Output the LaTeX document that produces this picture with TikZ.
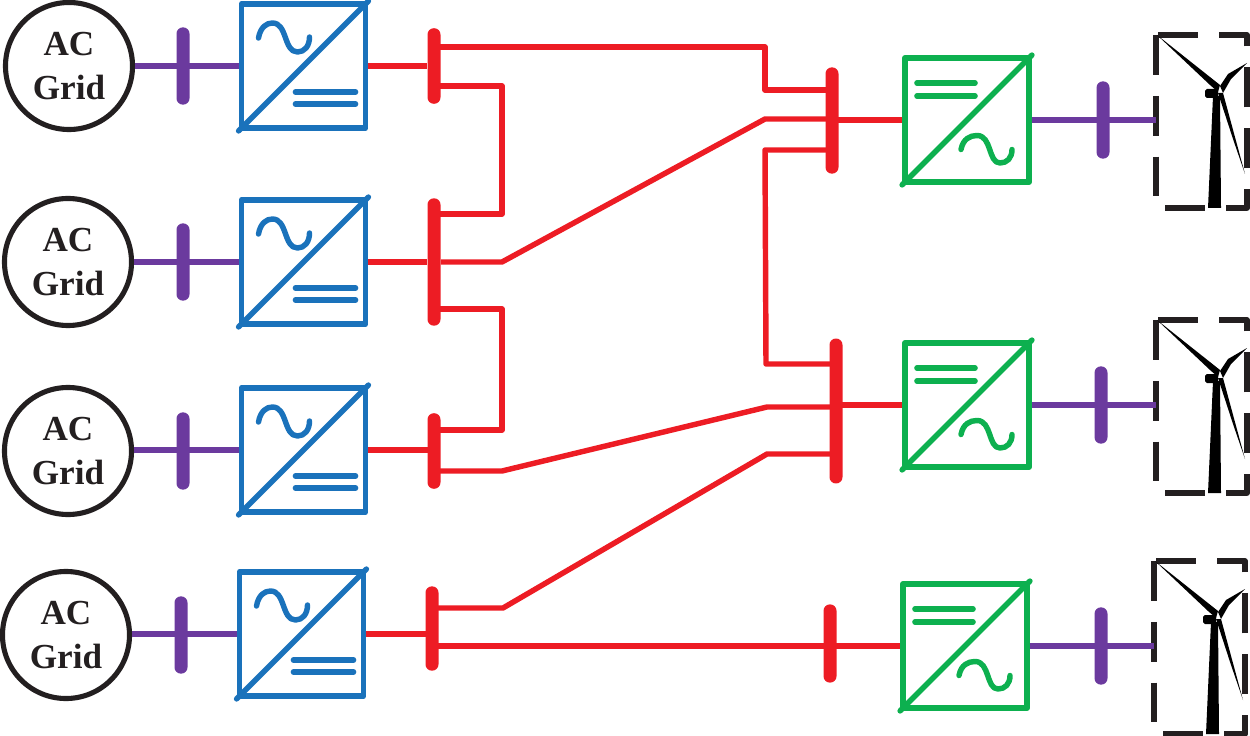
\documentclass[tikz,border=0pt]{standalone}
\usepackage{fontspec}
\setmainfont{Liberation Serif}
\definecolor{gridblack}{HTML}{231F20}
\definecolor{convblue}{HTML}{1A72BB}
\definecolor{convgreen}{HTML}{0DB04F}
\definecolor{wirered}{HTML}{ED1C24}
\definecolor{wirepurple}{HTML}{6B3A9E}
\begin{document}
\begin{tikzpicture}[
			x=0.02cm,y=-0.02cm,
			line join=round,
			grid/.style={circle,draw=gridblack,line width=2.9pt,minimum size=72.3pt,inner sep=0pt,align=center,text=gridblack,font=\fontsize{20}{25}\selectfont\bfseries},
			conv/.style={rectangle,draw,line width=3.1pt,minimum size=70.8pt,inner sep=0pt},
			bus/.style={rectangle,rounded corners=3.6pt,minimum width=7.4pt,inner sep=0pt},
			redbus/.style={bus,fill=wirered},
			purplebus/.style={bus,fill=wirepurple,minimum height=44pt},
			redwire/.style={draw=wirered,line width=3.1pt},
			purplewire/.style={draw=wirepurple,line width=3.3pt},
			acdc/.pic={
				\node[conv,draw=convblue] (-box) {};
				\draw[convblue,line width=3.1pt,line cap=round] (-box.south west) -- (-box.north east);
				\draw[convblue,line width=3.1pt,line cap=round] (-45,-28) .. controls (-43,-39) and (-37,-43) .. (-31,-43) .. controls (-16,-43) and (-20,-14) .. (-6,-14) .. controls (1,-14) and (6,-20) .. (6,-29);
				\draw[convblue,line width=3.2pt,line cap=round] (-8,26) -- (52,26) (-8,38) -- (52,38);
			},
			dcac/.pic={
				\node[conv,draw=convgreen] (-box) {};
				\draw[convgreen,line width=3.1pt,line cap=round] (-box.south west) -- (-box.north east);
				\draw[convgreen,line width=3.1pt,line cap=round] (-6,29.5) .. controls (-4,19) and (3,15.5) .. (10,15.5) .. controls (25,15.5) and (21,43) .. (33,43) .. controls (40,43) and (45,38) .. (45,29.5);
				\draw[convgreen,line width=3.2pt,line cap=round] (-50,-37) -- (8,-37) (-50,-24) -- (8,-24);
			},
			turbine/.pic={
				\coordinate (-port) at (0,85);
				\draw[gridblack,line width=2.9pt,dash pattern=on 22.7pt off 11.9pt] (0,0) -- (0,173) -- (91,173) -- (91,0) -- cycle;
				\fill[black] (57,61) -- (64,61) -- (65,173) -- (52,173) -- cycle;
				\fill[black] (1,0) -- (64,50) -- (62,57) -- (54,50) -- cycle;
				\fill[black] (91,28) -- (72,39) -- (64,51) -- (67,58) -- (75,44) -- cycle;
				\fill[black] (89,139) -- (67,58) -- (62,58) -- (77,104) -- cycle;
				\fill[black,rounded corners=1pt] (49,54) rectangle (62,63);
			}
		]
		\useasboundingbox (0,0) rectangle (1250,736);

		\node[grid] (g1) at (69,66) {AC\\Grid};
		\node[grid] (g2) at (68,262) {AC\\Grid};
		\node[grid] (g3) at (68,451) {AC\\Grid};
		\node[grid] (g4) at (66,635) {AC\\Grid};

		\node[purplebus] (p1) at (183,66) {};
		\node[purplebus] (p2) at (183,262) {};
		\node[purplebus] (p3) at (183,451) {};
		\node[purplebus] (p4) at (181,635) {};

		\pic (c1) at (303.5,66) {acdc};
		\pic (c2) at (303.5,262) {acdc};
		\pic (c3) at (303.5,450) {acdc};
		\pic (c4) at (301.5,634) {acdc};

		\node[redbus,minimum height=43pt] (b1) at (434,66) {};
		\node[redbus,minimum height=72.5pt] (b2) at (434,262) {};
		\node[redbus,minimum height=43pt] (b3) at (434,451) {};
		\node[redbus,minimum height=48pt] (b4) at (432,628.5) {};

		\node[redbus,minimum height=60.5pt] (r1) at (832,120.5) {};
		\node[redbus,minimum height=82.5pt] (r2) at (836,411) {};
		\node[redbus,minimum height=44.5pt] (r3) at (830,643.5) {};

		\pic (d1) at (967,120) {dcac};
		\pic (d2) at (967,405) {dcac};
		\pic (d3) at (965,646) {dcac};

		\node[purplebus] (q1) at (1103,120) {};
		\node[purplebus] (q2) at (1101,405) {};
		\node[purplebus] (q3) at (1101,646) {};

		\pic (t1) at (1156,35) {turbine};
		\pic (t2) at (1156,320) {turbine};
		\pic (t3) at (1154,561) {turbine};

		\draw[purplewire] (g1) -- (c1-box);
		\draw[purplewire] (g2) -- (c2-box);
		\draw[purplewire] (g3.east |- c3-box) -- (c3-box);
		\draw[purplewire] (g4.east |- c4-box) -- (c4-box);
		\draw[purplewire] (d1-box) -- (t1-port);
		\draw[purplewire] (d2-box) -- (t2-port);
		\draw[purplewire] (d3-box) -- (t3-port);

		\coordinate (j1) at (765,47);
		\coordinate (j2) at (765,90);
		\coordinate (j3) at (502,86);
		\coordinate (j4) at (502,214);
		\coordinate (j5) at (502,262);
		\coordinate (j6) at (765,119);
		\coordinate (j7) at (502,309);
		\coordinate (j8) at (502,430);
		\coordinate (j9) at (502,471);
		\coordinate (j10) at (767,407);
		\coordinate (j11) at (503,608);
		\coordinate (j12) at (767,454);
		\coordinate (j13) at (765,150);
		\coordinate (j14) at (766,364);
		\coordinate (j15) at (432,646);

		\draw[redwire] (c1-box) -- (b1);
		\draw[redwire] (c2-box) -- (b2);
		\draw[redwire] (c3-box) -- (b3 |- c3-box);
		\draw[redwire] (c4-box) -- (b4 |- c4-box);
		\draw[redwire] (b1 |- j1) -- (j1) -- (j2) -- (r1 |- j2);
		\draw[redwire] (b1 |- j3) -- (j3) -- (j4) -- (b2 |- j4);
		\draw[redwire] (b2) -- (j5) -- (j6) -- (r1 |- j6);
		\draw[redwire] (b2 |- j7) -- (j7) -- (j8) -- (b3 |- j8);
		\draw[redwire] (b3 |- j9) -- (j9) -- (j10) -- (r2 |- j10);
		\draw[redwire] (b4 |- j11) -- (j11) -- (j12) -- (r2 |- j12);
		\draw[redwire] (r1 |- j13) -- (j13) -- (j14) -- (r2 |- j14);
		\draw[redwire] (j15) -- (r3 |- j15);
		\draw[redwire] (r1 |- d1-box) -- (d1-box);
		\draw[redwire] (r2 |- d2-box) -- (d2-box);
		\draw[redwire] (r3 |- d3-box) -- (d3-box);
	\end{tikzpicture}
\end{document}
